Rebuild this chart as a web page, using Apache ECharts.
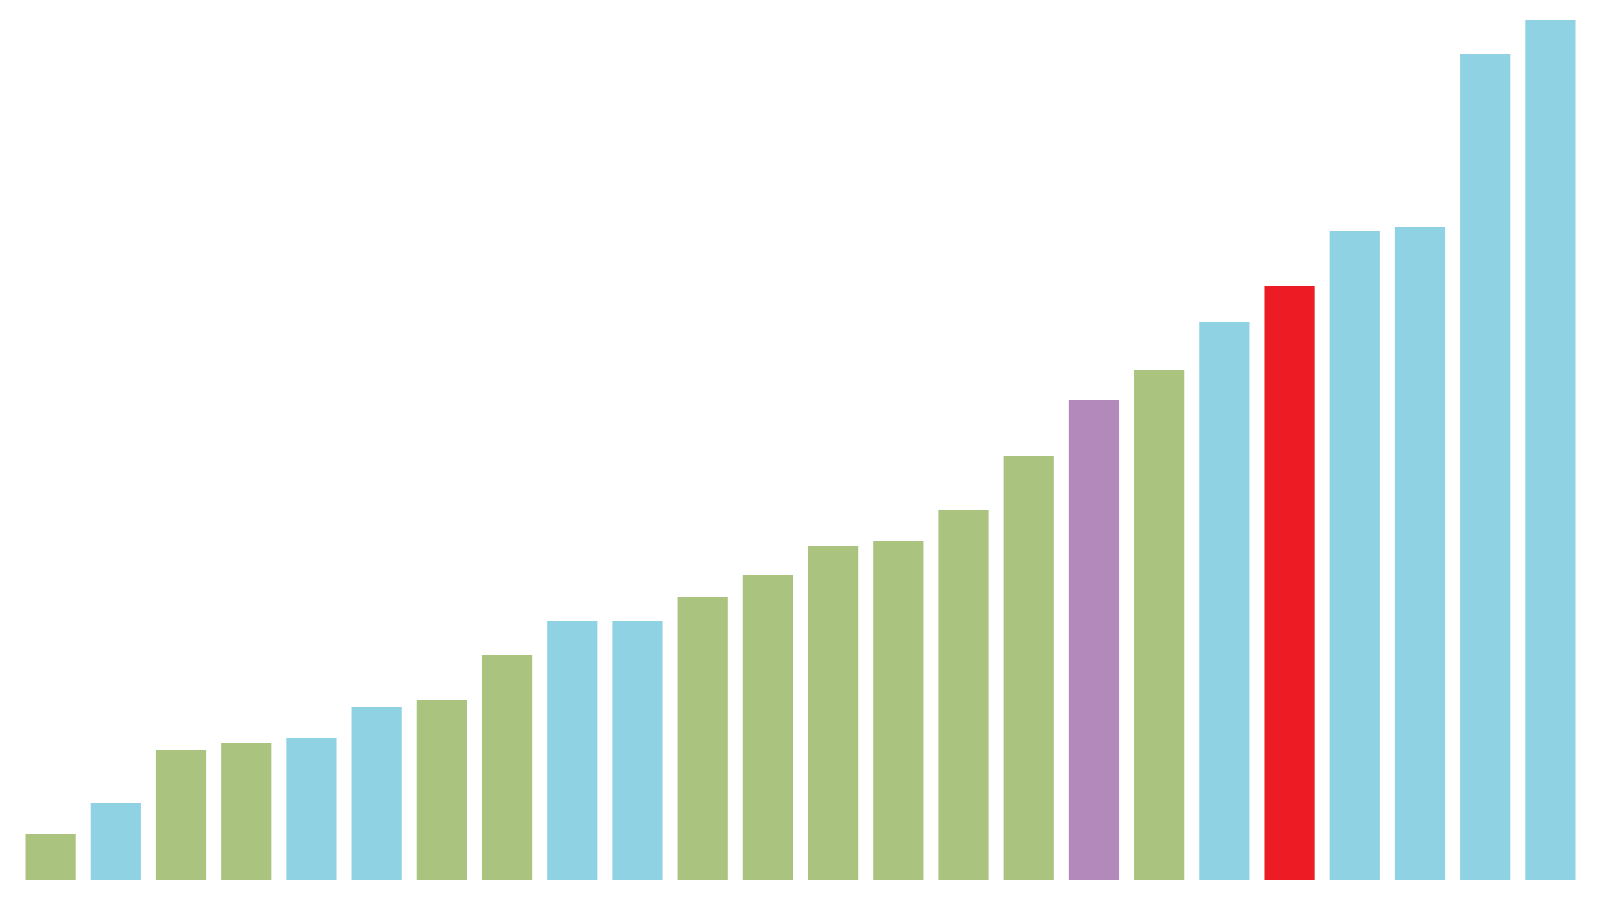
<!DOCTYPE html>
<html>
<head>
<meta charset="utf-8">
<script src="https://cdn.jsdelivr.net/npm/echarts@6/dist/echarts.min.js"></script>
<style>
    html, body { margin: 0; padding: 0; background: #fff; }
    #chart-panel { width: 1600px; height: 900px; }
</style>
</head>
<body>
<div id="chart-panel"></div>
<script>
var categories = ['1', '2', '3', '4', '5', '6', '7', '8', '9', '10', '11', '12',
    '13', '14', '15', '16', '17', '18', '19', '20', '21', '22', '23', '24']
var values = [46, 77, 130, 137, 142, 173, 180, 225, 259, 259, 283, 305,
    334, 339, 370, 424, 480, 510, 558, 594, 649, 653, 826, 860]
// g = green, b = blue, p = purple, r = red
var groups = ['g', 'b', 'g', 'g', 'b', 'b', 'g', 'g', 'b', 'b', 'g', 'g',
    'g', 'g', 'g', 'g', 'p', 'g', 'b', 'r', 'b', 'b', 'b', 'b']

var palette = {
    g: '#aac37f',
    b: '#8fd2e4',
    p: '#b388ba',
    r: '#ed1c24'
}

var chartOption = {
    backgroundColor: '#fff',
    animation: false,
    grid: {
        top: 20,
        bottom: 20,
        left: 18,
        right: 17
    },
    xAxis: {
        type: 'category',
        data: categories,
        show: false
    },
    yAxis: {
        type: 'value',
        min: 0,
        max: 860,
        show: false
    },
    series: [{
        type: 'bar',
        barCategoryGap: '23%',
        data: values.map(function (v, i) {
            return {
                value: v,
                itemStyle: { color: palette[groups[i]] }
            }
        })
    }]
}

var myChart = echarts.init(document.getElementById('chart-panel'))
myChart.setOption(chartOption)
</script>
</body>
</html>
